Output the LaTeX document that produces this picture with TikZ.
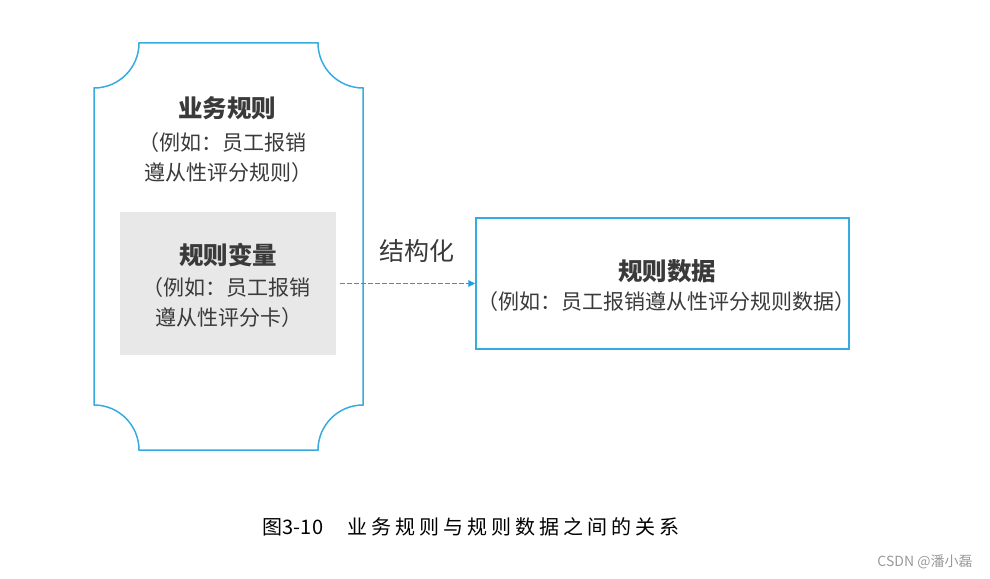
\documentclass[tikz,border=0pt]{standalone}
\usepackage{fontspec}
\setmainfont{Noto Sans CJK SC}
\usetikzlibrary{positioning,arrows.meta}
\definecolor{lineblue}{HTML}{35ABE0}
\definecolor{arrowblue}{HTML}{1AA0E0}
\definecolor{textgray}{HTML}{3A3A3A}
\definecolor{boxgray}{HTML}{E8E8E8}
\definecolor{markgray}{HTML}{9A9A9A}

\begin{document}
\begin{tikzpicture}[x=1pt,y=-1pt,>=Stealth,thick,
    title/.style={text=textgray,font=\bfseries\fontsize{24.5}{28}\selectfont,inner sep=0pt},
    note/.style={text=textgray,font=\fontsize{21}{24}\selectfont,inner sep=0pt}]
        \useasboundingbox (0,0) rectangle (990,578);
        % ticket shaped outline of the business rules
        \draw[lineblue,line width=1.5pt] (139,43) -- (318,43)
            .. controls (318,67.85) and (338.15,88) .. (363,88) -- (363,405)
            .. controls (338.15,405) and (318,425.15) .. (318,450) -- (139,450)
            .. controls (139,425.15) and (118.85,405) .. (94,405) -- (94,88)
            .. controls (118.85,88) and (139,67.85) .. (139,43) -- cycle;
        \node (biz) [title] at (227,108) {业务规则};
        \node (biz1) [note] at (222,143) {（例如：员工报销};
        \node (biz2) [note] at (228,173) {遵从性评分规则）};

        \node (var) [fill=boxgray, minimum width=216pt, minimum height=143pt] at (228,283.5) {};
        \node (vart) [title] at (228,255) {规则变量};
        \node (var1) [note] at (226,288) {（例如：员工报销};
        \node (var2) [note] at (229,318) {遵从性评分卡）};

        \node (data) [draw=lineblue, line width=1.5pt, minimum width=373pt, minimum height=131pt] at (662.5,283.5) {};
        \node (datat) [title] at (667,271) {规则数据};
        \node (data1) [note] at (666,302) {（例如：员工报销遵从性评分规则数据）};

        \draw[->, arrowblue, line width=1.7pt, dash pattern=on 4.5pt off 2.5pt, shorten <=4pt,
            -{Triangle[length=7pt,width=6.5pt]}] (var) -- (data);
        \node (struct) [text=textgray, font=\fontsize{25}{30}\selectfont, inner sep=0pt] at (417,251) {结构化};

        \node (cap) [text=black, font=\fontsize{20}{24}\selectfont, inner sep=0pt] at (471,527)
            {图3-10\hspace{24pt}{\addfontfeature{LetterSpace=20}业务规则与规则数据之间的关系}};
        \node (mark) [text=markgray, font=\fontsize{14}{17}\selectfont, inner sep=0pt] at (925,562) {CSDN @潘小磊};
    \end{tikzpicture}
\end{document}
